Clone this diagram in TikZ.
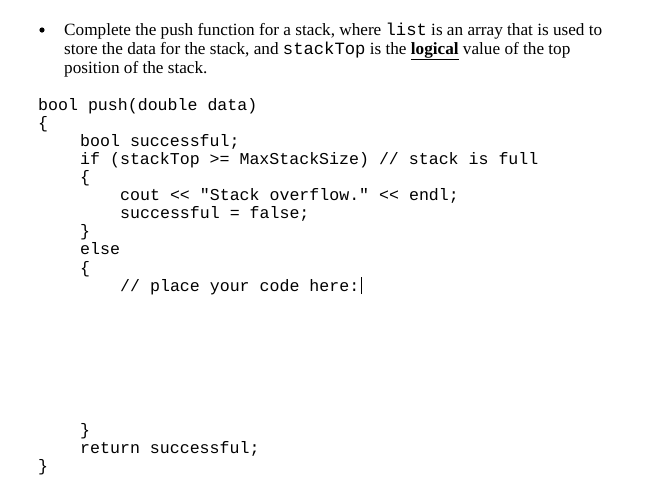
\documentclass[tikz,border=0pt]{standalone}
\usepackage{fontspec}
\setmainfont{Liberation Serif}
\setmonofont{Liberation Mono}
\begin{document}
\begin{tikzpicture}[x=1pt,y=-1pt,
  code/.style={anchor=base west,inner sep=0pt,font=\fontsize{16.6}{16}\ttfamily},
  prose/.style={anchor=base west,inner sep=0pt,font=\fontsize{17.2}{16}\selectfont}]
\useasboundingbox (0,0) rectangle (653,491);
\fill (42,30) circle (2.6) coordinate (bul);
\node[prose] (p1) at (64,35) {Complete the push function for a stack, where \texttt{list} is an array that is used to};
\node[prose] (p2) at (64,54) {store the data for the stack, and \texttt{stackTop} is the \textbf{\underline{logical}} value of the top};
\node[prose] (p3) at (64,73) {position of the stack.};
\node[code] (c1) at (38,110) {bool push(double data)};
\node[code] (c2) at (38,128) {\{};
\node[code] (c3) at (80,146) {bool successful;};
\node[code] (c4) at (80,164) {if (stackTop >= MaxStackSize) // stack is full};
\node[code] (c5) at (80,182) {\{};
\node[code] (c6) at (120,200) {cout << "Stack overflow." << endl;};
\node[code] (c7) at (120,218) {successful = false;};
\node[code] (c8) at (80,236) {\}};
\node[code] (c9) at (80,254) {else};
\node[code] (c10) at (80,273) {\{};
\node[code] (c11) at (120,291) {// place your code here:};
\draw[line width=0.8] (c11.base east)++(2,3) -- ++(0,-17);
\node[code] (c12) at (80,435) {\}};
\node[code] (c13) at (80,453) {return successful;};
\node[code] (c14) at (38,471) {\}};
\end{tikzpicture}
\end{document}
